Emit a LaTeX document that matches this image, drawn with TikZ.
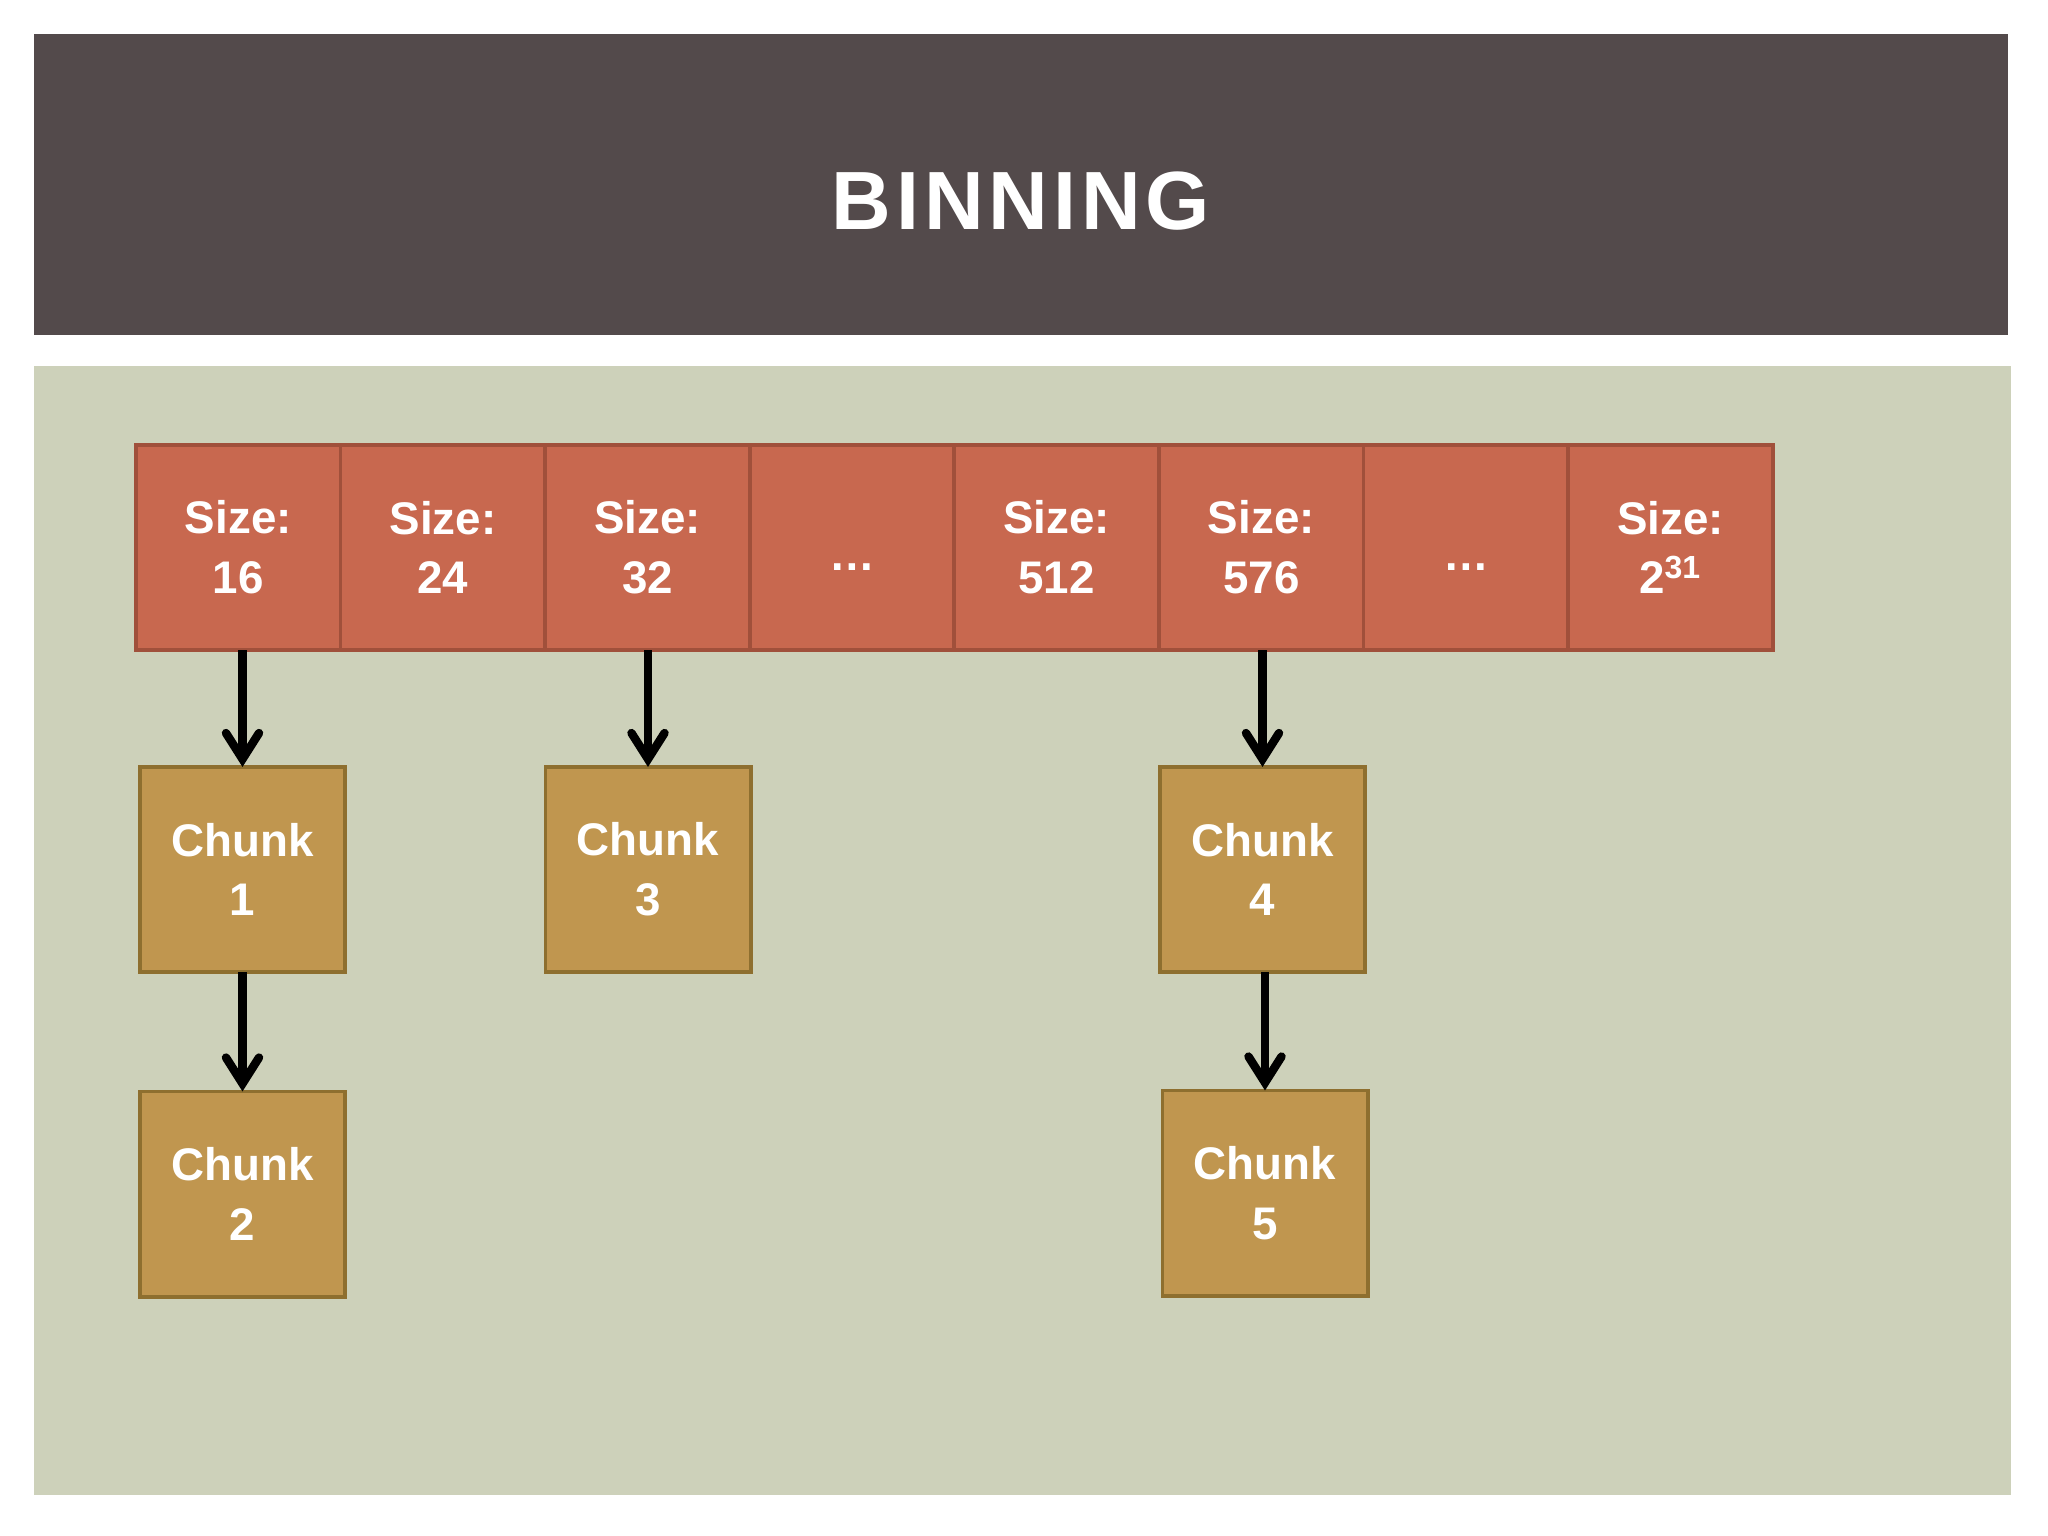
\documentclass[tikz,border=0pt]{standalone}
\usepackage{fontspec}
\setmainfont{Liberation Sans}
\usetikzlibrary{arrows.meta,positioning}

\definecolor{titlebg}{HTML}{534A4B}
\definecolor{bodybg}{HTML}{CDD1BA}
\definecolor{binfill}{HTML}{C8684F}
\definecolor{binline}{HTML}{A0503B}
\definecolor{chunkfill}{HTML}{C0964F}
\definecolor{chunkline}{HTML}{8E6F2F}

\tikzset{
  bin/.style={draw=binline, fill=binfill, line width=1.1pt, minimum width=2.046cm,
    minimum height=2.05cm, outer sep=0pt, inner sep=0pt, align=center, text=white,
    font=\fontsize{13}{17}\selectfont\bfseries},
  chunk/.style={draw=chunkline, fill=chunkfill, line width=1.1pt, minimum width=2.05cm,
    minimum height=2.05cm, outer sep=0pt, inner sep=0pt, align=center, text=white,
    font=\fontsize{13}{17}\selectfont\bfseries},
  link/.style={line width=2.4pt, -{Straight Barb[length=2.6mm, width=3.3mm, line cap=round]}},
}

\begin{document}
\begin{tikzpicture}[x=0.01cm, y=-0.01cm]
\useasboundingbox (0,0) rectangle (2048,1536);
% slide background
\fill[titlebg] (34,34) rectangle (2008,335);
\fill[bodybg] (34,366) rectangle (2011,1495);
\node[text=white, font=\fontsize{23.5}{28}\selectfont\bfseries\addfontfeature{LetterSpace=6}] (title) at (1021,201) {BINNING};

% the bins
\foreach \i/\txt in {1/{Size:\\16}, 2/{Size:\\24}, 3/{Size:\\32}, 4/{\raisebox{-13pt}{\dots}}, 5/{Size:\\512},
    6/{Size:\\576}, 7/{\raisebox{-13pt}{\dots}}, 8/{Size:\\2\textsuperscript{31}}}
  \node[bin] (c\i) at ({136+(\i-0.5)*204.6},547.5) {\txt};

% the chunks
\node[chunk] (k1) at (242.5,869.5) {Chunk\\1};
\node[chunk] (k2) at (242.5,1194) {Chunk\\2};
\node[chunk] (k3) at (648,869.5) {Chunk\\3};
\node[chunk] (k4) at (1262.5,869.5) {Chunk\\4};
\node[chunk] (k5) at (1265,1193) {Chunk\\5};

\draw[link] (c1.south -| k1.north) -- (k1.north);
\draw[link] (k1) -- (k2);
\draw[link] (c3.south -| k3.north) -- (k3.north);
\draw[link] (c6.south -| k4.north) -- (k4.north);
\draw[link] (k4.south -| k5.north) -- (k5.north);
\end{tikzpicture}
\end{document}
